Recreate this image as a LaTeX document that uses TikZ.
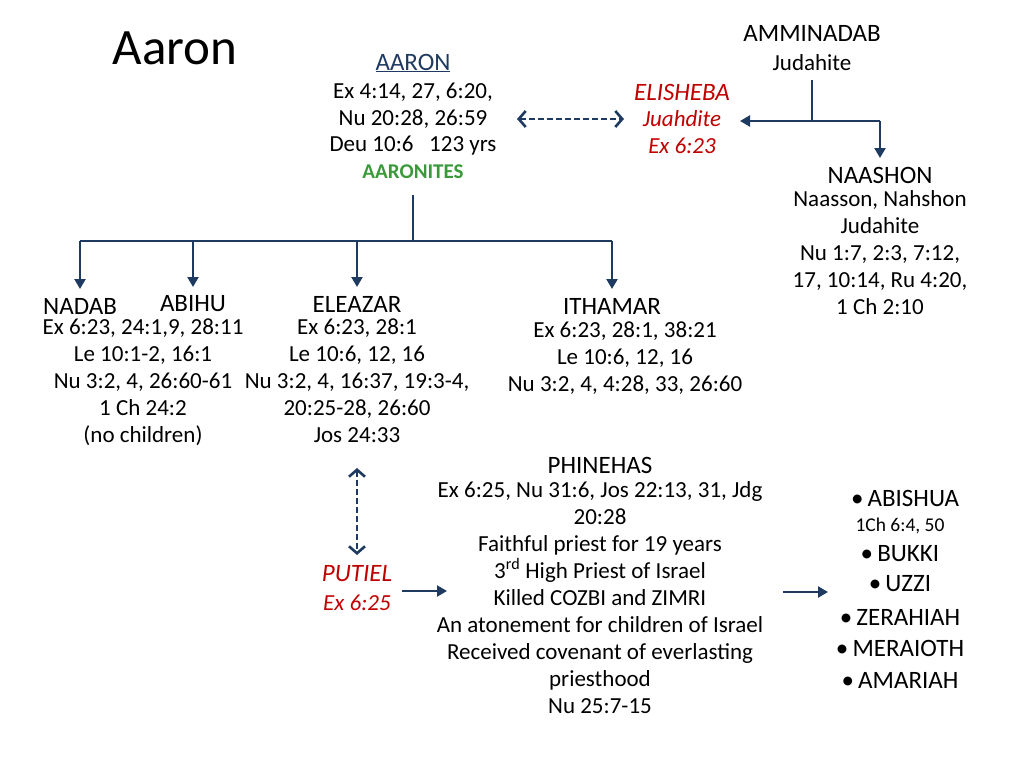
\documentclass[tikz,border=0pt]{standalone}
\usepackage{fontspec}
\setmainfont{Carlito}
\usetikzlibrary{arrows.meta}
\definecolor{ln}{HTML}{1F3A60}
\definecolor{rd}{HTML}{C00000}
\definecolor{gr}{HTML}{3A9A3A}
\begin{document}
\begin{tikzpicture}[x=1pt,y=-1pt,
  t/.style={inner sep=0pt,font=\fontsize{23}{27}\selectfont,align=center,anchor=center},
  nm/.style={inner sep=0pt,font=\fontsize{25}{28}\selectfont,anchor=center},
  con/.style={draw=ln,line width=2.2pt},
  tip/.style={-{Triangle[length=10pt,width=11pt]}},
  dsh/.style={draw=ln,line width=2.2pt,dash pattern=on 6pt off 3pt,{Straight Barb[length=7pt,width=16pt,line width=2.6pt]}-{Straight Barb[length=7pt,width=16pt,line width=2.6pt]}}]
\useasboundingbox (0,0) rectangle (1024,768);
\node[inner sep=0pt,font=\fontsize{51}{56}\selectfont] (title) at (175,48) {Aaron};
% Aaron
\node[nm,text=ln] (aaron) at (413,63) {\underline{AARON}};
\node[t] (a1) at (413,92) {Ex 4:14, 27, 6:20,};
\node[t] (a2) at (413,119) {Nu 20:28, 26:59};
\node[t] (a3) at (413,146) {Deu 10:6\ \ \ 123 yrs};
\node[t,text=gr,font=\fontsize{21}{24}\bfseries] (a4) at (413,172) {AARONITES};
% Elisheba
\node[nm,text=rd,font=\fontsize{25}{28}\itshape] (el) at (682,92) {ELISHEBA};
\node[t,text=rd,font=\fontsize{23}{27}\itshape] (e1) at (682,119) {Juahdite};
\node[t,text=rd,font=\fontsize{23}{27}\itshape] (e2) at (682,146) {Ex 6:23};
% Amminadab
\node[nm] (am) at (812,33) {AMMINADAB};
\node[t] (am1) at (812,63) {Judahite};
\node[nm] (na) at (880,175) {NAASHON};
\node[t,anchor=north] (na1) at (880,190) {Naasson, Nahshon\\Judahite\\Nu 1:7, 2:3, 7:12,\\17, 10:14, Ru 4:20,\\1 Ch 2:10};
\coordinate (amb) at (812,80);
\coordinate (j1) at (812,121);
\coordinate (j2) at (880,121);
\draw[con] (amb) -- (j1);
\draw[con,tip] (j2) -- (740,121);
\draw[con,tip] (j2) -- (880,158);
\draw[dsh] (517,119) -- (624,119);
% Aaron children
\coordinate (ab) at (413,195);
\coordinate (h) at (413,240);
\draw[con] (ab) -- (h);
\draw[con] (80,241) -- (612,241);
\draw[con,tip] (80,241) -- (80,289);
\draw[con,tip] (193,241) -- (193,287);
\draw[con,tip] (357,241) -- (357,287);
\draw[con,tip] (612,241) -- (612,289);
\node[nm] (nadab) at (80,306) {NADAB};
\node[nm] (abihu) at (193,304) {ABIHU};
\node[t,anchor=north] (nd1) at (143,319) {Ex 6:23, 24:1,9, 28:11\\Le 10:1-2, 16:1\\Nu 3:2, 4, 26:60-61\\1 Ch 24:2\\(no children)};
\node[nm] (elea) at (357,304) {ELEAZAR};
\node[t,anchor=north] (el1) at (357,319) {Ex 6:23, 28:1\\Le 10:6, 12, 16\\Nu 3:2, 4, 16:37, 19:3-4,\\20:25-28, 26:60\\Jos 24:33};
\node[nm] (ith) at (612,306) {ITHAMAR};
\node[t,anchor=north] (it1) at (625,322) {Ex 6:23, 28:1, 38:21\\Le 10:6, 12, 16\\Nu 3:2, 4, 4:28, 33, 26:60};
% Putiel
\node[nm,text=rd,font=\fontsize{25}{28}\itshape] (put) at (357,574) {PUTIEL};
\node[t,text=rd,font=\fontsize{23}{27}\itshape] (put1) at (357,603) {Ex 6:25};
\draw[dsh] (357,468) -- (357,555);
\draw[con,tip] (402,591) -- (447,591);
% Phinehas
\node[nm] (ph) at (600,465) {PHINEHAS};
\node[t,anchor=north] (ph1) at (600,481) {Ex 6:25, Nu 31:6, Jos 22:13, 31, Jdg\\20:28\\Faithful priest for 19 years\\3\textsuperscript{rd} High Priest of Israel\\Killed COZBI and ZIMRI\\An atonement for children of Israel\\Received covenant of everlasting\\priesthood\\Nu 25:7-15};
\draw[con,tip] (783,592) -- (828,592);
% descendants
\node[nm] (d1) at (905,498) {\textbullet\,ABISHUA};
\node[t,font=\fontsize{19.5}{24}\selectfont] (d1a) at (900,526) {1Ch 6:4, 50};
\node[nm] (d2) at (900,554) {\textbullet\,BUKKI};
\node[nm] (d3) at (900,584) {\textbullet\,UZZI};
\node[nm] (d4) at (900,617) {\textbullet\,ZERAHIAH};
\node[nm] (d5) at (900,648) {\textbullet\,MERAIOTH};
\node[nm] (d6) at (900,680) {\textbullet\,AMARIAH};
\end{tikzpicture}
\end{document}
